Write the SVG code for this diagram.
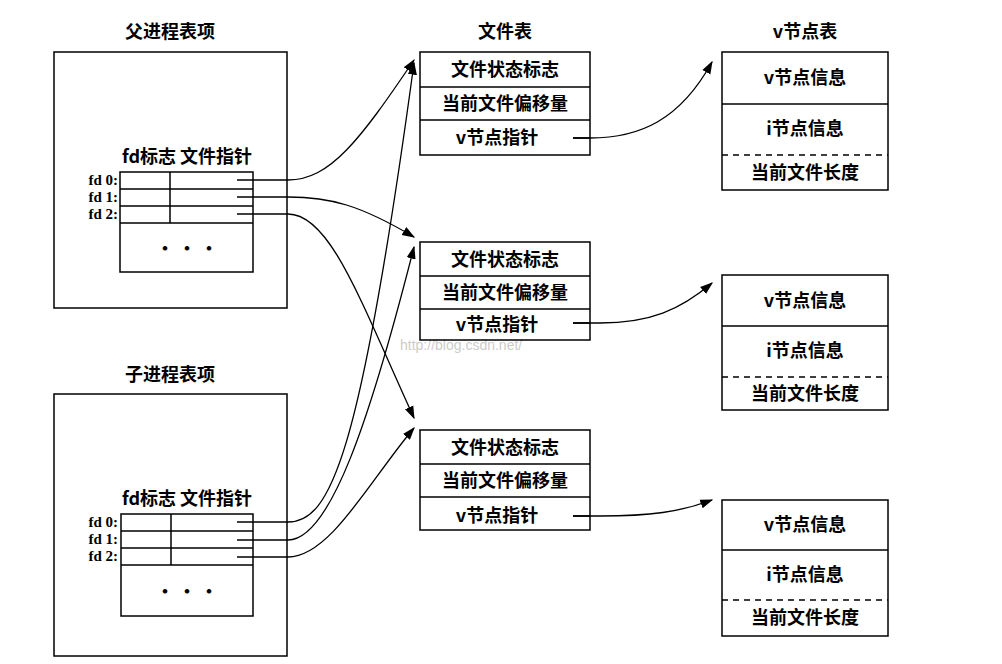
<svg xmlns="http://www.w3.org/2000/svg" width="1002" height="664" viewBox="0 0 1002 664">
<style>
.b{fill:none;stroke:#000;stroke-width:1.5}
.t{font-family:"Noto Sans CJK SC",sans-serif;font-size:18px;font-weight:bold;text-anchor:middle;fill:#000}
.fd{font-family:"Liberation Serif","Noto Sans CJK SC",serif;font-size:15px;font-weight:bold;text-anchor:end}
.c{fill:none;stroke:#000;stroke-width:1.3;marker-end:url(#a)}
.d{stroke-dasharray:6 5}
</style>
<defs><marker id="a" viewBox="0 0 10 10" refX="9" refY="5" markerWidth="13" markerHeight="13" markerUnits="userSpaceOnUse" orient="auto"><path d="M0,1.5 L10,5 L0,8.5 z"/></marker></defs>
<rect width="1002" height="664" fill="#fff"/>
<g id="parent">
<text class="t" x="170" y="38">父进程表项</text>
<rect class="b" x="54" y="52" width="233" height="256"/>
<text class="t" x="187" y="163">fd标志 文件指针</text>
<rect class="b" x="120" y="172" width="133" height="100"/>
<path class="b" d="M120 189H253M120 206H253M120 223H253M170 172V223M237 180H253M237 197H253M237 214H253"/>
<text class="fd" x="118" y="185">fd 0:</text><text class="fd" x="118" y="202">fd 1:</text><text class="fd" x="118" y="219">fd 2:</text>
<text class="t" x="187" y="255">• • •</text>
</g>
<g id="child">
<text class="t" x="170" y="381">子进程表项</text>
<rect class="b" x="54" y="394" width="233" height="262"/>
<text class="t" x="187" y="505">fd标志 文件指针</text>
<rect class="b" x="121" y="514" width="132" height="102"/>
<path class="b" d="M121 531H253M121 548H253M121 565H253M171 514V565M237 522H253M237 540H253M237 557H253"/>
<text class="fd" x="118" y="527">fd 0:</text><text class="fd" x="118" y="544">fd 1:</text><text class="fd" x="118" y="561">fd 2:</text>
<text class="t" x="187" y="598">• • •</text>
</g>
<text x="400" y="350" font-family="Liberation Sans,sans-serif" font-size="14" fill="#ccc">http://blog.csdn.net/</text>
<g id="filetables">
<text class="t" x="505" y="38">文件表</text>
<rect class="b" x="420" y="52" width="170" height="103"/>
<path class="b" d="M420 87H590M420 120H590M573 138H590"/>
<text class="t" x="505" y="76">文件状态标志</text><text class="t" x="505" y="110">当前文件偏移量</text><text class="t" x="497" y="144">v节点指针</text>
<rect class="b" x="420" y="242" width="170" height="98"/>
<path class="b" d="M420 276H590M420 309H590M573 323H590"/>
<text class="t" x="505" y="266">文件状态标志</text><text class="t" x="505" y="299">当前文件偏移量</text><text class="t" x="497" y="331">v节点指针</text>
<rect class="b" x="420" y="430" width="170" height="100"/>
<path class="b" d="M420 464H590M420 497H590M573 516H590"/>
<text class="t" x="505" y="454">文件状态标志</text><text class="t" x="505" y="487">当前文件偏移量</text><text class="t" x="497" y="522">v节点指针</text>
</g>
<g id="vnodes">
<text class="t" x="805" y="38">v节点表</text>
<rect class="b" x="722" y="52" width="166" height="138"/>
<path class="b" d="M722 104H888"/><path class="b d" d="M722 155H888"/>
<text class="t" x="805" y="84">v节点信息</text><text class="t" x="805" y="135">i节点信息</text><text class="t" x="805" y="179">当前文件长度</text>
<rect class="b" x="722" y="275" width="166" height="135"/>
<path class="b" d="M722 326H888"/><path class="b d" d="M722 377H888"/>
<text class="t" x="805" y="307">v节点信息</text><text class="t" x="805" y="357">i节点信息</text><text class="t" x="805" y="400">当前文件长度</text>
<rect class="b" x="722" y="500" width="166" height="136"/>
<path class="b" d="M722 550H888"/><path class="b d" d="M722 600H888"/>
<text class="t" x="805" y="531">v节点信息</text><text class="t" x="805" y="581">i节点信息</text><text class="t" x="805" y="624">当前文件长度</text>
</g>
<g id="connectors">
<path class="c" d="M253 180H288C330 180 360 140 414 60"/>
<path class="c" d="M253 197H288C330 197 360 205 414 237"/>
<path class="c" d="M253 214H288C330 214 360 300 414 418"/>
<path class="c" d="M253 522H288C330 522 360 460 414 63"/>
<path class="c" d="M253 540H288C330 540 370 420 414 247"/>
<path class="c" d="M253 557H288C330 557 370 480 414 428"/>
<path class="c" d="M573 138H590C640 138 680 120 712 62"/>
<path class="c" d="M573 323H600C650 323 680 310 712 283"/>
<path class="c" d="M573 516H600C650 516 680 512 712 500"/>
</g>
</svg>
